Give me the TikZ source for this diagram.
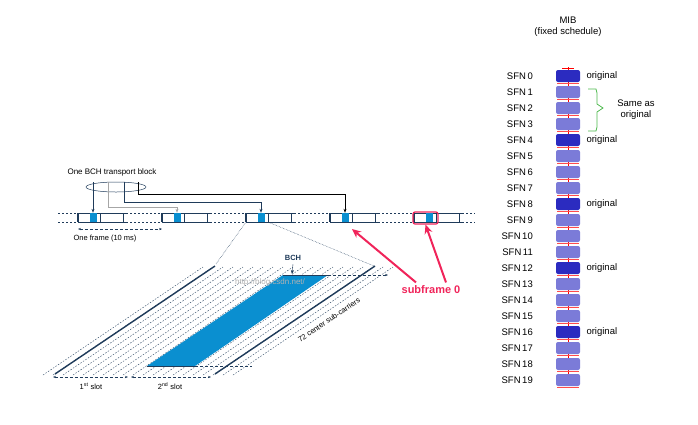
\documentclass[tikz,border=0pt]{standalone}
\usepackage{fontspec}
\setmainfont{Liberation Sans}
\usetikzlibrary{arrows.meta,decorations.pathreplacing}
\definecolor{dk}{HTML}{1F3B5A}
\definecolor{bl}{HTML}{0A8FD0}
\definecolor{mibd}{HTML}{2B2BC0}
\definecolor{mibl}{HTML}{7B7BD8}
\definecolor{pk}{HTML}{F0245A}
\begin{document}
\begin{tikzpicture}[x=1pt,y=-1pt,
  lbl/.style={font=\fontsize{7.5}{8}\selectfont,text=black,inner sep=0},
  sfn/.style={font=\fontsize{9.5}{11}\selectfont,anchor=east,inner sep=0},
  blk/.style={rounded corners=2pt,minimum width=24pt,minimum height=12pt,inner sep=0},
  dot/.style={dk,densely dotted,line width=0.5pt},
  arr/.style={-{Stealth[length=4pt]},line width=0.6pt}]
\useasboundingbox (0,0) rectangle (698,424);
% MIB column
\node[font=\fontsize{9.5}{11}\selectfont,align=center] (mib) at (568,27) {MIB\\(fixed schedule)};
\draw[red,line width=0.9pt] (568,67) -- (568,386);
\foreach \i in {0,...,19}{
  \pgfmathsetmacro\yy{76+16*\i}
  \pgfmathtruncatemacro\m{mod(\i,4)}
  \ifnum\m=0 \node[blk,fill=mibd] (b\i) at (568,\yy) {};
  \else \node[blk,fill=mibl] (b\i) at (568,\yy) {}; \fi
  \draw[red!70,line width=0.8pt] (557,\yy+7.5) -- (579,\yy+7.5);
  \node[sfn] (s\i) at (533,\yy) {SFN\,\i};
}
\draw[red,line width=0.9pt] (562,68) -- (574,68);
\foreach \i in {0,4,8,12,16}{\node[font=\fontsize{9.5}{11}\selectfont,anchor=west] (o\i) at (583,{76+16*\i}) {original};}
\draw[green!60!black!70,line width=0.8pt] (588,89) -- (596,89) -- (597,93) -- (597,104) -- (603,108) -- (597,112) -- (597,127) -- (596,131) -- (588,131);
\node[font=\fontsize{9.5}{11}\selectfont,align=center] (same) at (636,110) {Same as\\original};
% timeline
\draw[dk,line width=0.5pt,dash pattern=on 2pt off 2pt] (58,213) -- (475,213) (58,222) -- (475,222);
\foreach \f in {78,162,246,330,414}{
  \draw[dk,line width=0.5pt] (\f,213) -- (\f+50,213) (\f,222) -- (\f+50,222);
  \draw[dk,line width=1.3pt] (\f,213) -- (\f,222);
  \draw[dk,line width=0.5pt] (\f+22,213) -- (\f+22,222) (\f+45,213) -- (\f+45,222);
}
\foreach \f/\n in {78/t0,162/t1,246/t2,330/t3,414/t4}{\node[fill=bl,minimum width=7pt,minimum height=9pt,inner sep=0] (\n) at (\f+15,217.5) {};}
\node[draw=pk,line width=1.2pt,rounded corners=2pt,minimum width=25pt,minimum height=12pt] (rb) at (425.5,218) {};
\node[font=\fontsize{8}{9}\selectfont] (bchtb) at (112,172) {One BCH transport block};
\draw[dk,line width=0.5pt] (116,187) ellipse (30 and 5);
\coordinate (e1) at (93,182); \coordinate (e2) at (108,182); \coordinate (e3) at (124,182); \coordinate (e4) at (138,182);
\draw[arr,dk] (e1) -- (t0.north);
\draw[arr,gray!70] (e2) |- (177,207) -- (t1.north);
\draw[arr,dk] (e3) |- (261,202) -- (t2.north);
\draw[arr,black] (e4) |- (345,194) -- (t3.north);
\draw[dk,line width=0.5pt,densely dashed,{Stealth[length=3pt]}-{Stealth[length=3pt]}] (78,229) -- (162,229);
\node[lbl] (oneframe) at (105,239) {One frame (10 ms)};
% projection
\draw[dot] (246,222) -- (216,264);
\draw[dot] (268,222) -- (374,266);
% resource grid
\foreach \i in {0,...,19}{\draw[dk,line width=0.4pt,dash pattern=on 1.5pt off 1.5pt] ({43+10*\i},375) -- ++(160,-108);}
\fill[bl] (147,366) -- (195,366) -- (328,275) -- (283,275) -- cycle;
\draw[dk,line width=0.5pt] (147,366) -- (195,366) (283,275) -- (328,275);
\draw[dk,line width=0.5pt,densely dashed,-{Stealth[length=3pt]}] (328,275) -- (388,275);
\draw[dk,line width=0.5pt,densely dashed] (195,366) -- (252,366);
\draw[dk,line width=1.4pt] (55,374) -- (215,266);
\draw[dk,line width=1.4pt] (215,374) -- (375,266);
\node[font=\bfseries\fontsize{7.5}{8}\selectfont,text=dk] (bch) at (293,258) {BCH};
\draw[arr,dk,line width=0.4pt] (bch.south) -- (292,274);
\node[text=gray!60,font=\fontsize{8}{9}\selectfont] (wm) at (270,282) {http://blog.csdn.net/};
\draw[dk,line width=0.5pt,densely dashed,{Stealth[length=3pt]}-{Stealth[length=3pt]}] (53,377) -- (128,377);
\draw[dk,line width=0.5pt,densely dashed,{Stealth[length=3pt]}-{Stealth[length=3pt]}] (131,377) -- (211,377);
\node[lbl] (s1) at (91,386) {1\textsuperscript{st} slot};
\node[lbl] (s2) at (170,386) {2\textsuperscript{nd} slot};
\node[lbl,rotate=34] (sc) at (329,320) {72 center sub-carriers};
% subframe 0
\node[text=pk,font=\bfseries\fontsize{11}{13}\selectfont] (sf) at (431,290) {subframe 0};
\draw[pk,line width=2pt,-{Stealth[length=9pt,width=8pt]}] (sf.north) ++(-15,0) -- (352,229);
\draw[pk,line width=2pt,-{Stealth[length=9pt,width=8pt]}] (sf.north) ++(15,0) -- (rb.south);
\end{tikzpicture}
\end{document}
